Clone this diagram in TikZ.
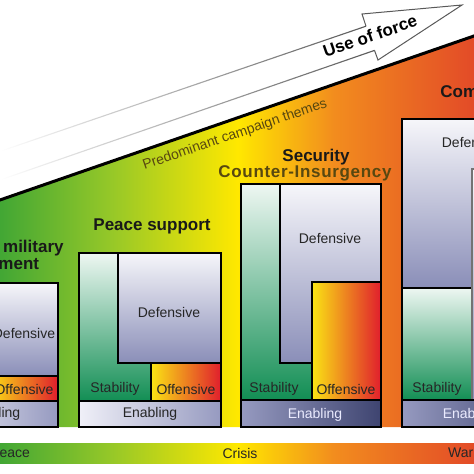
\documentclass[tikz,border=0pt]{standalone}
\usepackage{fontspec}
\setmainfont{Liberation Sans}
\usetikzlibrary{positioning}
\definecolor{bandgreen}{RGB}{62,165,53}
\definecolor{bandlime}{RGB}{150,200,40}
\definecolor{bandyellow}{RGB}{255,232,0}
\definecolor{bandorange}{RGB}{242,140,30}
\definecolor{bandred}{RGB}{226,72,40}
\definecolor{defwhite}{RGB}{246,246,250}
\definecolor{defblue}{RGB}{138,142,184}
\definecolor{stabwhite}{RGB}{238,247,242}
\definecolor{stabgreen}{RGB}{18,142,84}
\definecolor{offyellow}{RGB}{250,228,20}
\definecolor{offred}{RGB}{224,30,45}
\definecolor{enlight}{RGB}{240,240,248}
\definecolor{enmid}{RGB}{150,154,192}
\definecolor{endark}{RGB}{62,68,112}
\definecolor{olivetext}{RGB}{88,72,16}
\pgfdeclarehorizontalshading{forceband}{100bp}{color(0bp)=(bandgreen); color(25bp)=(bandgreen); color(37bp)=(bandlime); color(50bp)=(bandyellow); color(60bp)=(bandorange); color(75bp)=(bandred); color(100bp)=(bandred)}

\begin{document}
\begin{tikzpicture}[
        x=1pt, y=-1pt,
        defbox/.style={top color=defwhite, bottom color=defblue, draw=black, line width=1.6pt},
        stabbox/.style={top color=stabwhite, bottom color=stabgreen, draw=black, line width=1.6pt},
        offbox/.style={left color=offyellow, right color=offred, draw=black, line width=1.6pt},
        enabox/.style={left color=enlight, right color=enmid, draw=black, line width=1.6pt},
        enadark/.style={left color=enmid, right color=endark, draw=black, line width=1.6pt},
        outline/.style={draw=black, line width=2pt},
        fadeline/.style={left color=white, right color=black!65},
        boxlabel/.style={font=\fontsize{14}{16}\selectfont, text=black!85, inner sep=0pt},
        theme/.style={font=\fontsize{17}{17}\selectfont\bfseries, text=black!90, inner sep=0pt, align=center},
        scalelabel/.style={font=\fontsize{14}{16}\selectfont, text=black!85, inner sep=0pt}
    ]
        \useasboundingbox (0,0) rectangle (474,474);
        \clip (0,0) rectangle (474,474);

        % background band and sloped edge
        \path[shading=forceband] (-5,201.7) -- (480,33.9) -- (480,427) -- (-5,427) -- cycle;
        \draw[line width=3pt] (-5,201.7) -- (480,33.9);

        % use of force arrow
        \shade[fadeline] (0,150.8) -- (366,25.6) -- (366,26.8) -- (0,152.0) -- cycle;
        \shade[fadeline] (0,179.4) -- (374.5,49.8) -- (374.5,51.0) -- (0,180.6) -- cycle;
        \draw[black!65, line width=1pt, line join=miter] (366,26.2) -- (362,14) -- (462,5) -- (378,60) -- (374.5,50.4);
        \node[font=\fontsize{17}{17}\selectfont\bfseries, rotate=19, inner sep=0pt] (force) at (370,36) {Use of force};
        \node[font=\fontsize{14}{14}\selectfont, text=olivetext, rotate=19, inner sep=0pt] (themes) at (235,135) {Predominant campaign themes};

        % peacetime military engagement
        \path[defbox] (-12,283) rectangle (58,376);
        \path[offbox] (-12,376) rectangle (58,401);
        \path[enabox] (-70,401) rectangle (58,427);
        \draw[outline] (-70,283) rectangle (58,427);
        \node[theme] (peacetime) at (-11,257) {Peacetime military\\engagement};
        \node[boxlabel] (pdef) at (24,333) {Defensive};
        \node[boxlabel] (poff) at (24,389) {Offensive};
        \node[boxlabel] (pena) at (-7,414) {Enabling};

        % peace support
        \path[stabbox] (79,253) -- (118,253) -- (118,363) -- (151,363) -- (151,401) -- (79,401) -- cycle;
        \path[defbox] (118,253) rectangle (221,363);
        \path[offbox] (151,363) rectangle (221,401);
        \path[enabox] (79,401) rectangle (221,427);
        \draw[outline] (79,253) rectangle (221,427);
        \node[theme] (peacesupport) at (152,226) {Peace support};
        \node[boxlabel] (sdef) at (169,312) {Defensive};
        \node[boxlabel] (sstab) at (115,389) {Stability};
        \node[boxlabel] (soff) at (186,389) {Offensive};
        \node[boxlabel] (sena) at (150,414) {Enabling};

        % security / counter-insurgency
        \path[stabbox] (241,184) -- (280,184) -- (280,363) -- (312,363) -- (312,400) -- (241,400) -- cycle;
        \path[defbox] (280,184) -- (381,184) -- (381,282) -- (312,282) -- (312,363) -- (280,363) -- cycle;
        \path[offbox] (312,282) rectangle (381,400);
        \path[enadark] (241,400) rectangle (381,427);
        \draw[outline] (241,184) rectangle (381,427);
        \node[theme] (security) at (316,157) {Security};
        \node[theme, text=olivetext, font=\fontsize{17}{17}\selectfont\bfseries\addfontfeature{LetterSpace=4}] (coin) at (305,173) {Counter-Insurgency};
        \node[boxlabel] (cdef) at (330,238) {Defensive};
        \node[boxlabel] (cstab) at (274,389) {Stability};
        \node[boxlabel] (coff) at (346,389) {Offensive};
        \node[boxlabel, text=white!92!blue] (cena) at (315,415) {Enabling};

        % combat
        \path[defbox] (402,119) rectangle (544,288);
        \path[stabbox] (402,288) rectangle (472,400);
        \path[defbox, draw=black!55] (472,169) rectangle (544,400);
        \path[enadark] (402,400) rectangle (544,427);
        \draw[outline] (402,119) rectangle (544,427);
        \node[theme] (combat) at (472,91) {Combat};
        \node[boxlabel] (kdef) at (473,142) {Defensive};
        \node[boxlabel] (kstab) at (437,389) {Stability};
        \node[boxlabel, text=white!92!blue] (kena) at (470,415) {Enabling};

        % scale bar
        \path[shading=forceband] (-5,443) rectangle (480,463);
        \node[scalelabel, anchor=west] (peace) at (-10,453) {Peace};
        \node[scalelabel] (crisis) at (240,453) {Crisis};
        \node[scalelabel, anchor=west] (war) at (448,453) {War};
    \end{tikzpicture}
\end{document}
